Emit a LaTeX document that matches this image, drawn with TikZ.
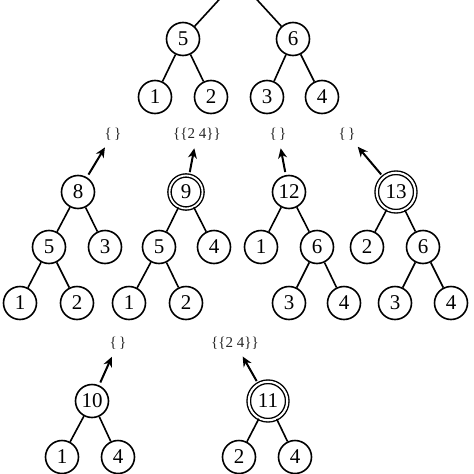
\documentclass[tikz,border=0pt]{standalone}
\usepackage{fontspec}
\setmainfont{Liberation Serif}
\usetikzlibrary{arrows.meta}
\begin{document}
\begin{tikzpicture}[x=1pt,y=-1pt,
  tn/.style={circle,draw,line width=1.6pt,minimum size=33pt,inner sep=0pt,font=\fontsize{21}{23}\selectfont},
  dn/.style={tn,double,double distance=1.8pt,line width=1.4pt},
  dnw/.style={dn,minimum size=38.5pt,double distance=2.1pt},
  lab/.style={font=\fontsize{15}{17}\selectfont,text=black!85,inner sep=1pt},
  ed/.style={line width=1.6pt},
  arr/.style={line width=2pt,-{Stealth[length=10pt,width=9pt]},shorten <=3pt,shorten >=7pt}]
\clip (0,0) rectangle (474,474);
% top tree
\coordinate (top) at (238,-21);
\node[tn] (t5) at (183,39) {5};
\node[tn] (t6) at (293,39) {6};
\node[tn] (t1) at (155,97) {1};
\node[tn] (t2) at (211,97) {2};
\node[tn] (t3) at (267,97) {3};
\node[tn] (t4) at (322,97) {4};
\draw[ed] (top) -- (t5) (top) -- (t6);
\draw[ed] (t5) -- (t1) (t5) -- (t2) (t6) -- (t3) (t6) -- (t4);
% labels row 1
\node[lab] (la) at (113,134) {\{\,\}};
\node[lab] (lb) at (197,134) {\{\{2 4\}\}};
\node[lab] (lc) at (278,134) {\{\,\}};
\node[lab] (ld) at (347,134) {\{\,\}};
% tree A
\node[tn] (a8) at (78,192) {8};
\node[tn] (a5) at (49,247) {5};
\node[tn] (a3) at (105,247) {3};
\node[tn] (a1) at (20,303) {1};
\node[tn] (a2) at (77,303) {2};
\draw[ed] (a8) -- (a5) (a8) -- (a3) (a5) -- (a1) (a5) -- (a2);
% tree B
\node[dn] (b9) at (186,192) {9};
\node[tn] (b5) at (159,247) {5};
\node[tn] (b4) at (214,247) {4};
\node[tn] (b1) at (129,303) {1};
\node[tn] (b2) at (186,303) {2};
\draw[ed] (b9) -- (b5) (b9) -- (b4) (b5) -- (b1) (b5) -- (b2);
% tree C
\node[tn] (c12) at (289,192) {12};
\node[tn] (c1) at (261,247) {1};
\node[tn] (c6) at (317,247) {6};
\node[tn] (c3) at (289,303) {3};
\node[tn] (c4) at (344,303) {4};
\draw[ed] (c12) -- (c1) (c12) -- (c6) (c6) -- (c3) (c6) -- (c4);
% tree D
\node[dnw] (d13) at (396,192) {13};
\node[tn] (d2) at (367,247) {2};
\node[tn] (d6) at (423,247) {6};
\node[tn] (d3) at (395,303) {3};
\node[tn] (d4) at (451,303) {4};
\draw[ed] (d13) -- (d2) (d13) -- (d6) (d6) -- (d3) (d6) -- (d4);
% arrows row 1
\draw[arr] (a8) -- (la);
\draw[arr] (b9) -- (lb);
\draw[arr] (c12) -- (lc);
\draw[arr] (d13) -- (ld);
% bottom labels
\node[lab] (le) at (118,343) {\{\,\}};
\node[lab] (lf) at (235,343) {\{\{2 4\}\}};
% tree E
\node[tn] (e10) at (92,401) {10};
\node[tn] (e1) at (62,457) {1};
\node[tn] (e4) at (118,457) {4};
\draw[ed] (e10) -- (e1) (e10) -- (e4);
% tree F
\node[dnw] (f11) at (268,401) {11};
\node[tn] (f2) at (239,457) {2};
\node[tn] (f4) at (295,457) {4};
\draw[ed] (f11) -- (f2) (f11) -- (f4);
\draw[arr] (e10) -- (le);
\draw[arr] (f11) -- (lf);
\end{tikzpicture}
\end{document}
